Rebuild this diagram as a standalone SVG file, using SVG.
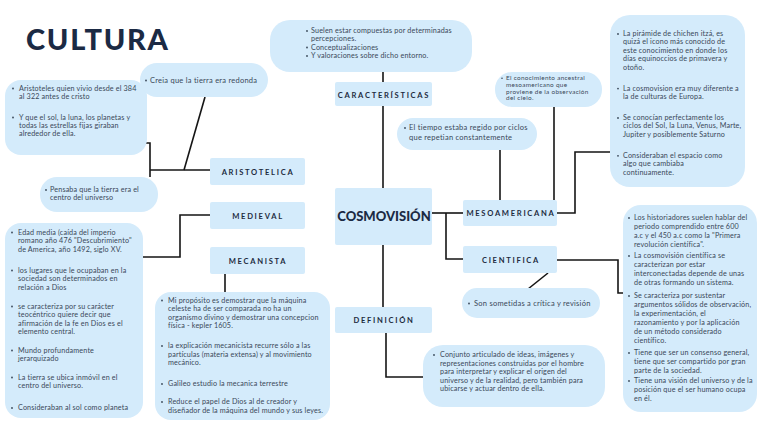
<svg xmlns="http://www.w3.org/2000/svg" width="768" height="431" viewBox="0 0 768 431">
<style>
.bg{fill:#ffffff}
.box{fill:#d4ebfb}
.lbl{fill:#d4ebfb}
.t{font-family:Lato,"Open Sans","Liberation Sans",sans-serif;font-size:7.2px;letter-spacing:0.15px;fill:#3a4859}
.w{font-size:7.5px;letter-spacing:0.25px}
.s{font-size:6.4px;letter-spacing:0.3px}
.b{fill:#3a4859}
.h{font-family:Lato,"Liberation Sans",sans-serif;font-weight:bold;font-size:7.6px;letter-spacing:1.7px;fill:#1d2b3f;text-anchor:middle}
.c{font-family:Lato,"Liberation Sans",sans-serif;font-weight:900;font-size:13px;fill:#1b2a44;text-anchor:middle}
.title{font-family:Lato,"Liberation Sans",sans-serif;font-weight:900;font-size:29px;letter-spacing:1.7px;fill:#1b2a44}
.ln{fill:none;stroke:#151515;stroke-width:1.6}
</style>
<rect class="bg" x="0" y="0" width="768" height="431"/>
<text class="title" x="26" y="50">CULTURA</text>

<g id="connectors">
<path class="ln" d="M383,72 V82"/>
<path class="ln" d="M383,106 V188"/>
<path class="ln" d="M383,245 V307"/>
<path class="ln" d="M386,333 V377 H423"/>
<path class="ln" d="M146,143 H150 V177"/>
<path class="ln" d="M150,170 H210"/>
<path class="ln" d="M205,97 L184,170"/>
<path class="ln" d="M143,257 H180 V215 H210"/>
<path class="ln" d="M225,274 V292"/>
<path class="ln" d="M432,213 H463"/>
<path class="ln" d="M446,213 V259 H463"/>
<path class="ln" d="M554,107 V200"/>
<path class="ln" d="M500,150 V200"/>
<path class="ln" d="M557,213 H575 V152 H610"/>
<path class="ln" d="M557,260 H618 V293 H625"/>
<path class="ln" d="M548,273 L528,289"/>
</g>

<g id="caracteristicas-notas">
<rect class="box" x="270" y="20" width="202" height="52" rx="20"/>
<circle class="b" cx="307" cy="31" r="0.9"/><circle class="b" cx="307" cy="47.5" r="0.9"/><circle class="b" cx="307" cy="56" r="0.9"/>
<text class="t"><tspan x="311" y="33">Suelen estar compuestas por determinadas</tspan><tspan x="311" y="41">percepciones.</tspan><tspan x="311" y="49.5">Conceptualizaciones</tspan><tspan x="311" y="58">Y valoraciones sobre dicho entorno.</tspan></text>
</g>

<g id="caracteristicas"><rect class="lbl" x="335" y="82" width="97" height="24" rx="2"/><text class="h" x="384" y="97.5">CARACTERÍSTICAS</text></g>

<g id="aristoteles-notas">
<rect class="box" x="5" y="80" width="142" height="75" rx="16"/>
<circle class="b" cx="13" cy="88.5" r="0.9"/><circle class="b" cx="13" cy="117.5" r="0.9"/>
<text class="t"><tspan x="19" y="90.5">Aristoteles quien vivio desde el 384</tspan><tspan x="19" y="99">al 322 antes de cristo</tspan><tspan x="19" y="119.5">Y que el sol, la luna, los planetas y</tspan><tspan x="19" y="127.5">todas las estrellas fijas giraban</tspan><tspan x="19" y="136">alrededor de ella.</tspan></text>
</g>

<g id="redonda">
<rect class="box" x="140" y="63" width="128" height="34" rx="17"/>
<circle class="b" cx="146" cy="80.5" r="0.9"/>
<text class="t w" x="150" y="82.5">Creia que la tierra era redonda</text>
</g>

<g id="pensaba">
<rect class="box" x="40" y="177" width="118" height="35" rx="17"/>
<circle class="b" cx="46" cy="190" r="0.9"/>
<text class="t"><tspan x="50" y="192">Pensaba que la tierra era el</tspan><tspan x="50" y="200">centro del universo</tspan></text>
</g>

<g id="aristotelica"><rect class="lbl" x="210" y="158" width="95" height="27" rx="2"/><text class="h" x="258" y="174.5">ARISTOTELICA</text></g>
<g id="medieval"><rect class="lbl" x="210" y="202" width="95" height="27" rx="2"/><text class="h" x="258" y="218.5">MEDIEVAL</text></g>
<g id="mecanista"><rect class="lbl" x="210" y="247" width="95" height="27" rx="2"/><text class="h" x="258" y="263.5">MECANISTA</text></g>

<g id="cosmovision"><rect class="lbl" x="335" y="188" width="97" height="57" rx="2"/><text class="c" x="384" y="220.5">COSMOVISIÓN</text></g>

<g id="definicion"><rect class="lbl" x="335" y="307" width="97" height="26" rx="2"/><text class="h" x="384" y="323">DEFINICIÓN</text></g>

<g id="medieval-notas">
<rect class="box" x="5" y="223" width="138" height="195" rx="16"/>
<circle class="b" cx="12" cy="232.5" r="0.9"/><circle class="b" cx="12" cy="270.5" r="0.9"/><circle class="b" cx="12" cy="306.5" r="0.9"/><circle class="b" cx="12" cy="350.5" r="0.9"/><circle class="b" cx="12" cy="377.5" r="0.9"/><circle class="b" cx="12" cy="408" r="0.9"/>
<text class="t"><tspan x="18" y="234.5">Edad media (caída del imperio</tspan><tspan x="18" y="243">romano año 476 "Descubrimiento"</tspan><tspan x="18" y="251.5">de America, año 1492, siglo XV.</tspan><tspan x="18" y="272.5">los lugares que  le ocupaban en la</tspan><tspan x="18" y="281">sociedad son determinados en</tspan><tspan x="18" y="289.5">relación a Dios</tspan><tspan x="18" y="308.5">se caracteriza por su carácter</tspan><tspan x="18" y="317">teocéntrico quiere decir que</tspan><tspan x="18" y="325.5">afirmación de la fe en Dios es el</tspan><tspan x="18" y="334">elemento central.</tspan><tspan x="18" y="352.5">Mundo profundamente</tspan><tspan x="18" y="361">jerarquizado</tspan><tspan x="18" y="379.5">La tierra se ubica inmóvil en el</tspan><tspan x="18" y="388">centro del universo.</tspan><tspan x="18" y="410">Consideraban al sol como planeta</tspan></text>
</g>

<g id="mecanista-notas">
<rect class="box" x="155" y="292" width="175" height="128" rx="16"/>
<circle class="b" cx="162" cy="300.5" r="0.9"/><circle class="b" cx="162" cy="346" r="0.9"/><circle class="b" cx="162" cy="384" r="0.9"/><circle class="b" cx="162" cy="402" r="0.9"/>
<text class="t"><tspan x="168" y="302.5">Mi propósito es demostrar que la máquina</tspan><tspan x="168" y="311">celeste ha de ser comparada no ha un</tspan><tspan x="168" y="319.5">organismo divino y demostrar una concepcion</tspan><tspan x="168" y="328">física - kepler 1605.</tspan><tspan x="168" y="348">la explicación mecanicista recurre sólo a las</tspan><tspan x="168" y="356.5">partículas (materia extensa) y al movimiento</tspan><tspan x="168" y="365">mecánico.</tspan><tspan x="168" y="386">Galileo estudio la mecanica terrestre</tspan><tspan x="168" y="404">Reduce el papel de Dios al de creador y</tspan><tspan x="168" y="412.5">diseñador de la máquina del mundo y sus leyes.</tspan></text>
</g>

<g id="definicion-notas">
<rect class="box" x="423" y="345" width="182" height="62" rx="20"/>
<circle class="b" cx="434" cy="355" r="0.9"/>
<text class="t"><tspan x="440" y="357">Conjunto articulado de ideas, imágenes y</tspan><tspan x="440" y="365.5">representaciones construidas por el hombre</tspan><tspan x="440" y="374">para interpretar y explicar el origen del</tspan><tspan x="440" y="382.5">universo y de la realidad, pero también para</tspan><tspan x="440" y="391">ubicarse y actuar dentro de ella.</tspan></text>
</g>

<g id="conocimiento-ancestral">
<rect class="box" x="495" y="72" width="107" height="35" rx="17"/>
<circle class="b" cx="502" cy="78.3" r="0.8"/>
<text class="t s"><tspan x="506" y="80">El conocimiento ancestral</tspan><tspan x="506" y="86.8">mesoamericano que</tspan><tspan x="506" y="93.6">proviene de la observación</tspan><tspan x="506" y="100.4">del cielo.</tspan></text>
</g>

<g id="tiempo">
<rect class="box" x="397" y="118" width="140" height="32" rx="16"/>
<circle class="b" cx="405" cy="128" r="0.9"/>
<text class="t w"><tspan x="409" y="130">El tiempo estaba regido por ciclos</tspan><tspan x="409" y="139.5">que repetian constantemente</tspan></text>
</g>

<g id="mesoamericana-notas">
<rect class="box" x="610" y="15" width="135" height="172" rx="20"/>
<circle class="b" cx="618" cy="34" r="0.9"/><circle class="b" cx="618" cy="88.6" r="0.9"/><circle class="b" cx="618" cy="118" r="0.9"/><circle class="b" cx="618" cy="155.8" r="0.9"/>
<text class="t"><tspan x="623" y="36">La pirámide de chichen itzá, es</tspan><tspan x="623" y="44.4">quizá el icono más conocido de</tspan><tspan x="623" y="52.8">este conocimiento en donde los</tspan><tspan x="623" y="61.2">días equinoccios de primavera y</tspan><tspan x="623" y="69.6">otoño.</tspan><tspan x="623" y="90.6">La cosmovision era muy diferente a</tspan><tspan x="623" y="99">la de culturas de Europa.</tspan><tspan x="623" y="120">Se conocían perfectamente los</tspan><tspan x="623" y="128.4">ciclos del Sol, la Luna, Venus, Marte,</tspan><tspan x="623" y="136.8">Jupiter y posiblemente Saturno</tspan><tspan x="623" y="157.8">Consideraban el espacio como</tspan><tspan x="623" y="166.2">algo que cambiaba</tspan><tspan x="623" y="174.6">continuamente.</tspan></text>
</g>

<g id="mesoamericana"><rect class="lbl" x="463" y="200" width="94" height="26" rx="2"/><text class="h" x="511" y="216">MESOAMERICANA</text></g>
<g id="cientifica"><rect class="lbl" x="463" y="246" width="94" height="27" rx="2"/><text class="h" x="511" y="262.5">CIENTIFICA</text></g>

<g id="critica">
<rect class="box" x="462" y="288" width="138" height="30" rx="15"/>
<circle class="b" cx="469" cy="303.5" r="0.9"/>
<text class="t w" x="474" y="305.5">Son sometidas a crítica y revisión</text>
</g>

<g id="cientifica-notas">
<rect class="box" x="623" y="205" width="134" height="207" rx="18"/>
<circle class="b" cx="629" cy="218" r="0.9"/><circle class="b" cx="629" cy="256" r="0.9"/><circle class="b" cx="629" cy="296" r="0.9"/><circle class="b" cx="629" cy="353" r="0.9"/><circle class="b" cx="629" cy="381" r="0.9"/>
<text class="t"><tspan x="634" y="220">Los historiadores suelen hablar del</tspan><tspan x="634" y="229">periodo comprendido entre 600</tspan><tspan x="634" y="238">a.c y el 450 a.c como la "Primera</tspan><tspan x="634" y="247">revolución científica".</tspan><tspan x="634" y="258">La cosmovisión científica se</tspan><tspan x="634" y="267">caracterizan por estar</tspan><tspan x="634" y="276">interconectadas depende de unas</tspan><tspan x="634" y="285">de otras formando un sistema.</tspan><tspan x="634" y="298">Se caracteriza por sustentar</tspan><tspan x="634" y="307">argumentos sólidos de observación,</tspan><tspan x="634" y="316">la experimentación, el</tspan><tspan x="634" y="325">razonamiento y por la aplicación</tspan><tspan x="634" y="334">de un método considerado</tspan><tspan x="634" y="343">científico.</tspan><tspan x="634" y="355">Tiene que ser un consenso general,</tspan><tspan x="634" y="364">tiene que ser compartido por gran</tspan><tspan x="634" y="373">parte de la sociedad.</tspan><tspan x="634" y="383">Tiene una visión del universo y de la</tspan><tspan x="634" y="392">posición que el ser humano ocupa</tspan><tspan x="634" y="401">en él.</tspan></text>
</g>
</svg>
